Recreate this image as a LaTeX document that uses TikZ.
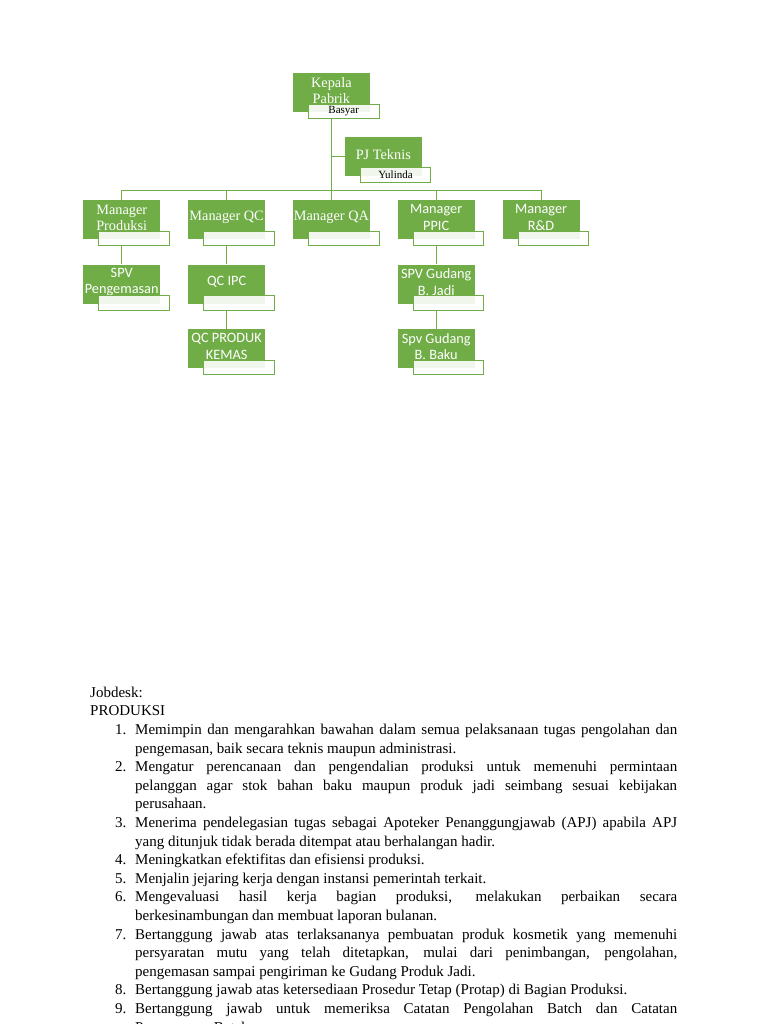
\documentclass[tikz,border=0pt]{standalone}
\usepackage{fontspec}
\setmainfont{Liberation Serif}
\newfontfamily\calibri{Carlito}
\usepackage{xcolor}
\usepackage{tikz}
\usetikzlibrary{positioning,backgrounds,calc}
\definecolor{orggreen}{RGB}{112,173,71}
\newcommand\jdnum[1]{\noindent\llap{\makebox[20pt][l]{#1.}}}
\tikzset{
  post/.style={fill=orggreen, minimum width=77pt, minimum height=39pt, inner sep=0pt,
    label={[text=white, align=center, yshift=2pt, inner sep=0pt, font=\fontsize{14.3}{16}\selectfont]center:#1}},
  postsf/.style={fill=orggreen, minimum width=77pt, minimum height=39pt, inner sep=0pt,
    label={[text=white, align=center, yshift=2pt, inner sep=0pt, font=\calibri\fontsize{14.3}{16.5}\selectfont]center:#1}},
  tag/.style={draw=orggreen, line width=0.9pt, fill=white, fill opacity=0.9, text opacity=1, minimum width=70.5pt, minimum height=14.4pt, inner sep=0pt, anchor=north west, font=\fontsize{11}{12}\selectfont},
  link/.style={draw=orggreen, line width=1.1pt},
}

\begin{document}
\begin{tikzpicture}[x=1pt, y=-1pt]
  \useasboundingbox (0,0) rectangle (768,1024);
  \node[post={Kepala\\Pabrik}] (kp) at (331.4,92.3) {};
  \node[post={PJ Teknis}] (pj) at (383.3,156.2) {};
  \node[post={Manager\\Produksi}] (mp) at (121.7,219.7) {};
  \node[post={Manager QC}] (mqc) at (226.6,219.7) {};
  \node[post={Manager QA}] (mqa) at (331.4,219.7) {};
  \node[postsf={Manager\\PPIC}] (mppic) at (436.2,219.7) {};
  \node[postsf={Manager\\R\&D}] (mrd) at (541.1,219.7) {};
  \node[postsf={SPV\\Pengemasan}, below=25pt of mp] (spv) {};
  \node[postsf={QC IPC}, below=25pt of mqc] (ipc) {};
  \node[postsf={QC PRODUK\\KEMAS}, below=25pt of ipc] (kemas) {};
  \node[postsf={SPV Gudang\\B. Jadi}, below=25pt of mppic] (gjadi) {};
  \node[postsf={Spv Gudang\\B. Baku}, below=25pt of gjadi] (gbaku) {};
  \foreach \n/\t in {kp/Basyar, pj/Yulinda, mp/, mqc/, mqa/, mppic/, mrd/, spv/, ipc/, kemas/, gjadi/, gbaku/}
    \node[tag] (\n-t) at ([xshift=15.3pt,yshift=8.4pt]\n.south west) {\t};
  \coordinate (bus) at (331.4,190.3);
  \begin{scope}[on background layer]
    \draw[link] (kp |- kp-t.south) -- (kp |- bus);
    \draw[link] (kp |- pj) -- (pj.west);
    \draw[link] (mp |- bus) -- (mrd |- bus);
    \foreach \m in {mp,mqc,mqa,mppic,mrd}
      \draw[link] (\m |- bus) -- (\m.north);
    \draw[link] (mp |- mp-t.south) -- (spv.north);
    \draw[link] (mqc |- mqc-t.south) -- (ipc.north);
    \draw[link] (ipc |- ipc-t.south) -- (kemas.north);
    \draw[link] (mppic |- mppic-t.south) -- (gjadi.north);
    \draw[link] (gjadi |- gjadi-t.south) -- (gbaku.north);
  \end{scope}
  \node[anchor=base west, text width=587pt, align=justify, inner sep=0pt, font=\fontsize{15}{18.6}\selectfont] (job) at (90,697.3) {%
    \rightskip=0pt\relax
    Jobdesk:\\
    PRODUKSI\par
    \leftskip=45pt
    \jdnum{1}Memimpin dan mengarahkan bawahan dalam semua pelaksanaan tugas pengolahan dan\linebreak pengemasan, baik secara teknis maupun administrasi.\par
    \jdnum{2}Mengatur perencanaan dan pengendalian produksi untuk memenuhi permintaan\linebreak pelanggan agar stok bahan baku maupun produk jadi seimbang sesuai kebijakan\linebreak perusahaan.\par
    \jdnum{3}Menerima pendelegasian tugas sebagai Apoteker Penanggungjawab (APJ) apabila APJ\linebreak yang ditunjuk tidak berada ditempat atau berhalangan hadir.\par
    \jdnum{4}Meningkatkan efektifitas dan efisiensi produksi.\par
    \jdnum{5}Menjalin jejaring kerja dengan instansi pemerintah terkait.\par
    \jdnum{6}Mengevaluasi hasil kerja bagian produksi, melakukan perbaikan secara\linebreak berkesinambungan dan membuat laporan bulanan.\par
    \jdnum{7}Bertanggung jawab atas terlaksananya pembuatan produk kosmetik yang memenuhi\linebreak persyaratan mutu yang telah ditetapkan, mulai dari penimbangan, pengolahan,\linebreak pengemasan sampai pengiriman ke Gudang Produk Jadi.\par
    \jdnum{8}Bertanggung jawab atas ketersediaan Prosedur Tetap (Protap) di Bagian Produksi.\par
    \jdnum{9}Bertanggung jawab untuk memeriksa Catatan Pengolahan Batch dan Catatan\linebreak Pengemasan Batch\par};
\end{tikzpicture}
\end{document}
